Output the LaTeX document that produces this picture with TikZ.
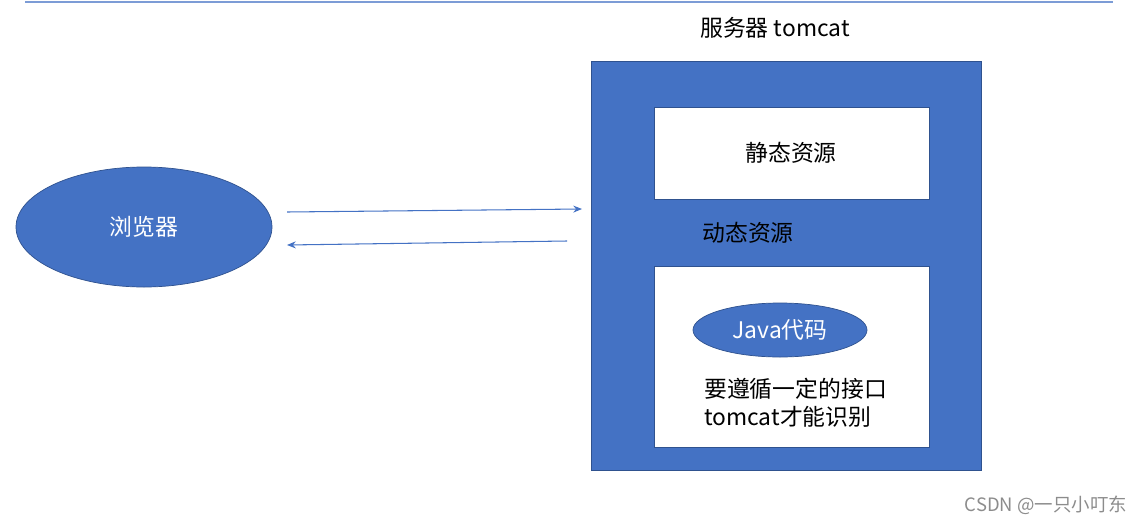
\documentclass[tikz,border=0pt]{standalone}
\usepackage{fontspec}
\setmainfont{Noto Sans CJK SC}
\usetikzlibrary{shapes.geometric,arrows.meta}
\definecolor{blu}{HTML}{4472C4}
\definecolor{bluedge}{HTML}{2F528F}
\tikzset{
  lbl/.style={font=\fontsize{13}{16}\selectfont},
  blob/.style={ellipse, fill=blu, draw=bluedge, text=white, font=\fontsize{13}{16}\selectfont},
  conn/.style={draw=blu, -{Stealth[length=5pt,width=4pt]}, line width=0.6pt}
}
\begin{document}
\begin{tikzpicture}[x=0.02cm,y=-0.02cm]
\useasboundingbox (0,0) rectangle (1148,524);
\draw[blu!70, line width=0.8pt] (25,2) -- (1113,2);
\node[lbl] (title) at (775,28) {服务器 tomcat};
\filldraw[fill=blu, draw=bluedge] (591,61) rectangle (981,470);
\filldraw[fill=white, draw=bluedge] (654,107) rectangle (929,199);
\node[lbl] (static) at (791,153) {静态资源};
\node[lbl] (dyn) at (748,233) {动态资源};
\filldraw[fill=white, draw=bluedge] (654,266) rectangle (929,447);
\node[blob, minimum width=174*0.02cm, minimum height=54*0.02cm, inner sep=0pt] (java) at (780,330) {Java代码};
\node[lbl, anchor=west, align=left, text depth=0pt] (rule) at (698,402) {要遵循一定的接口\\tomcat才能识别};
\node[blob, minimum width=256*0.02cm, minimum height=120*0.02cm, inner sep=0pt] (browser) at (144,227) {浏览器};
\coordinate (a1) at (287,212);
\coordinate (a2) at (582,209);
\coordinate (b1) at (567,241);
\coordinate (b2) at (287,245);
\draw[conn] (a1) -- (a2);
\draw[conn] (b1) -- (b2);
\node[font=\fontsize{10.5}{12}\selectfont, text=black!45] (wm) at (1046,505) {CSDN @一只小叮东};
\end{tikzpicture}
\end{document}
